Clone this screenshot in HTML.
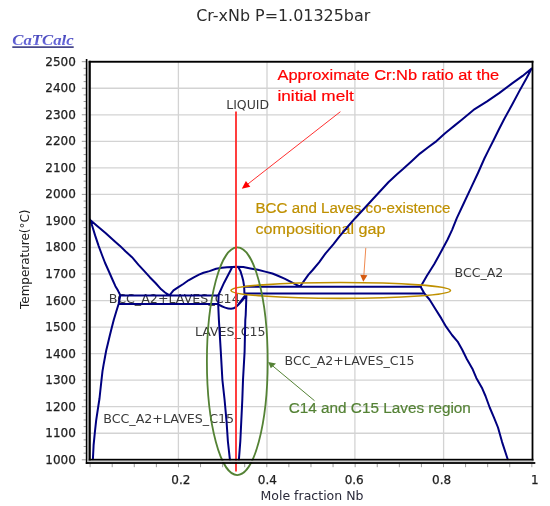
<!DOCTYPE html><html><head><meta charset="utf-8"><title>Cr-xNb phase diagram</title>
<style>html,body{margin:0;padding:0;background:#fff;}body{width:550px;height:506px;overflow:hidden;}svg{display:block;}</style></head><body>
<svg width="550" height="506" viewBox="0 0 550 506">
<rect x="0" y="0" width="550" height="506" fill="#fff"/>
<path d="M 89.6 88.24 H 532.5 M 89.6 114.78 H 532.5 M 89.6 141.32 H 532.5 M 89.6 167.86 H 532.5 M 89.6 194.40 H 532.5 M 89.6 220.94 H 532.5 M 89.6 247.48 H 532.5 M 89.6 274.02 H 532.5 M 89.6 300.56 H 532.5 M 89.6 327.10 H 532.5 M 89.6 353.64 H 532.5 M 89.6 380.18 H 532.5 M 89.6 406.72 H 532.5 M 89.6 433.26 H 532.5 M 178.40 61.7 V 459.8 M 267.00 61.7 V 459.8 M 354.90 61.7 V 459.8 M 443.60 61.7 V 459.8" stroke="#d3d3d3" stroke-width="1.3" fill="none"/>
<path d="M 81.8 61.70 H 86 M 83.6 68.34 H 86 M 83.6 74.97 H 86 M 83.6 81.61 H 86 M 81.8 88.24 H 86 M 83.6 94.88 H 86 M 83.6 101.51 H 86 M 83.6 108.15 H 86 M 81.8 114.78 H 86 M 83.6 121.42 H 86 M 83.6 128.05 H 86 M 83.6 134.69 H 86 M 81.8 141.32 H 86 M 83.6 147.96 H 86 M 83.6 154.59 H 86 M 83.6 161.23 H 86 M 81.8 167.86 H 86 M 83.6 174.50 H 86 M 83.6 181.13 H 86 M 83.6 187.76 H 86 M 81.8 194.40 H 86 M 83.6 201.04 H 86 M 83.6 207.67 H 86 M 83.6 214.31 H 86 M 81.8 220.94 H 86 M 83.6 227.57 H 86 M 83.6 234.21 H 86 M 83.6 240.85 H 86 M 81.8 247.48 H 86 M 83.6 254.12 H 86 M 83.6 260.75 H 86 M 83.6 267.38 H 86 M 81.8 274.02 H 86 M 83.6 280.66 H 86 M 83.6 287.29 H 86 M 83.6 293.93 H 86 M 81.8 300.56 H 86 M 83.6 307.19 H 86 M 83.6 313.83 H 86 M 83.6 320.46 H 86 M 81.8 327.10 H 86 M 83.6 333.74 H 86 M 83.6 340.37 H 86 M 83.6 347.00 H 86 M 81.8 353.64 H 86 M 83.6 360.27 H 86 M 83.6 366.91 H 86 M 83.6 373.55 H 86 M 81.8 380.18 H 86 M 83.6 386.81 H 86 M 83.6 393.45 H 86 M 83.6 400.08 H 86 M 81.8 406.72 H 86 M 83.6 413.35 H 86 M 83.6 419.99 H 86 M 83.6 426.62 H 86 M 81.8 433.26 H 86 M 83.6 439.89 H 86 M 83.6 446.53 H 86 M 83.6 453.16 H 86 M 81.8 459.80 H 86 M 90.10 463.5 V 467.2 M 112.19 463.5 V 467.2 M 134.28 463.5 V 467.2 M 156.36 463.5 V 467.2 M 178.45 463.5 V 467.2 M 200.54 463.5 V 467.2 M 222.62 463.5 V 467.2 M 244.71 463.5 V 467.2 M 266.80 463.5 V 467.2 M 288.89 463.5 V 467.2 M 310.98 463.5 V 467.2 M 333.06 463.5 V 467.2 M 355.15 463.5 V 467.2 M 377.24 463.5 V 467.2 M 399.33 463.5 V 467.2 M 421.41 463.5 V 467.2 M 443.50 463.5 V 467.2 M 465.59 463.5 V 467.2 M 487.68 463.5 V 467.2 M 509.76 463.5 V 467.2 M 531.85 463.5 V 467.2" stroke="#9a9a9a" stroke-width="1" fill="none"/>
<g font-family="'DejaVu Sans','Liberation Sans',sans-serif" font-size="12" fill="#1e1e1e" stroke="#1e1e1e" stroke-width="0.25" text-anchor="end">
<text x="75.8" y="65.6">2500</text>
<text x="75.8" y="92.1">2400</text>
<text x="75.8" y="118.7">2300</text>
<text x="75.8" y="145.2">2200</text>
<text x="75.8" y="171.8">2100</text>
<text x="75.8" y="198.3">2000</text>
<text x="75.8" y="224.8">1900</text>
<text x="75.8" y="251.4">1800</text>
<text x="75.8" y="277.9">1700</text>
<text x="75.8" y="304.5">1600</text>
<text x="75.8" y="331.0">1500</text>
<text x="75.8" y="357.5">1400</text>
<text x="75.8" y="384.1">1300</text>
<text x="75.8" y="410.6">1200</text>
<text x="75.8" y="437.2">1100</text>
<text x="75.8" y="463.7">1000</text>
</g>
<g font-family="'DejaVu Sans','Liberation Sans',sans-serif" font-size="12" fill="#1e1e1e" stroke="#1e1e1e" stroke-width="0.25" text-anchor="middle">
<text x="180.8" y="483.6">0.2</text>
<text x="267.3" y="483.6">0.4</text>
<text x="354.2" y="483.6">0.6</text>
<text x="441.6" y="483.6">0.8</text>
<text x="534.8" y="483.6">1</text>
</g>
<text x="260.5" y="500.1" font-family="'DejaVu Sans','Liberation Sans',sans-serif" font-size="12.5" fill="#2a2a3a" textLength="103" lengthAdjust="spacingAndGlyphs">Mole fraction Nb</text>
<text transform="translate(29.2 308.9) rotate(-90)" x="0" y="0" font-family="'DejaVu Sans','Liberation Sans',sans-serif" font-size="12.5" fill="#1e1e1e" textLength="99.4" lengthAdjust="spacingAndGlyphs">Temperature(°C)</text>
<text x="196.2" y="21.4" font-family="'DejaVu Sans','Liberation Sans',sans-serif" font-size="16" fill="#2b2b2b" textLength="174" lengthAdjust="spacingAndGlyphs">Cr-xNb P=1.01325bar</text>
<defs><linearGradient id="lg" x1="0" y1="0" x2="0" y2="1"><stop offset="0" stop-color="#3030a8"/><stop offset="1" stop-color="#7a7aea"/></linearGradient></defs>
<text x="12.3" y="44.5" font-family="'Liberation Serif',serif" font-style="italic" font-weight="bold" font-size="15.5" fill="url(#lg)" textLength="61.4" lengthAdjust="spacingAndGlyphs">CaTCalc</text>
<rect x="12.3" y="46.4" width="61.4" height="1.4" fill="#1c1c70"/>
<g font-family="'DejaVu Sans','Liberation Sans',sans-serif" font-size="12" fill="#3a3a3a">
<text x="226.2" y="108.5" textLength="43" lengthAdjust="spacingAndGlyphs">LIQUID</text>
<text x="108.7" y="302.7" textLength="131" lengthAdjust="spacingAndGlyphs">BCC_A2+LAVES_C14</text>
<text x="194.9" y="335.9" textLength="70.7" lengthAdjust="spacingAndGlyphs">LAVES_C15</text>
<text x="284.6" y="364.6" textLength="129.8" lengthAdjust="spacingAndGlyphs">BCC_A2+LAVES_C15</text>
<text x="103.2" y="422.7" textLength="130.9" lengthAdjust="spacingAndGlyphs">BCC_A2+LAVES_C15</text>
<text x="454.5" y="276.5" textLength="48.8" lengthAdjust="spacingAndGlyphs">BCC_A2</text>
</g>
<g font-family="'Liberation Sans','DejaVu Sans',sans-serif" font-size="15.5" stroke-width="0.2">
<text x="277.5" y="79.5" fill="#ff0000" stroke="#ff0000" textLength="221.7" lengthAdjust="spacingAndGlyphs">Approximate Cr:Nb ratio at the</text>
<text x="277.5" y="100.5" fill="#ff0000" stroke="#ff0000" textLength="76.3" lengthAdjust="spacingAndGlyphs">initial melt</text>
<text x="255.5" y="212.5" fill="#bf9000" stroke="#bf9000" textLength="195" lengthAdjust="spacingAndGlyphs">BCC and Laves co-existence</text>
<text x="255.5" y="234.3" fill="#bf9000" stroke="#bf9000" textLength="130" lengthAdjust="spacingAndGlyphs">compositional gap</text>
<text x="288.7" y="412.5" fill="#548235" stroke="#548235" textLength="182.2" lengthAdjust="spacingAndGlyphs">C14 and C15 Laves region</text>
</g>
<path d="M 90.2 219.9 L 96.9 225.7 L 105.8 233.2 L 114.6 241.2 L 120.0 245.9 L 125.7 251.5 L 132.0 257.2 L 138.3 264.6 L 144.1 270.9 L 149.8 277.2 L 155.5 283.0 L 161.2 289.3 L 165.0 292.5 L 169.5 295.3 M 90.2 219.9 L 92.4 226.5 L 95.1 235.4 L 98.7 246.1 L 102.0 255.0 L 105.1 263.0 L 108.7 271.0 L 112.2 279.0 L 115.4 286.2 L 118.0 290.6 L 120.3 295.3 L 119.5 299.5 L 118.6 304.0 L 116.2 311.8 L 113.8 319.7 L 111.8 327.6 L 109.8 335.5 L 107.9 343.5 L 106.2 350.5 L 105.1 356.5 L 103.6 364.6 L 102.5 371.1 L 101.4 380.9 L 100.4 390.0 L 99.5 398.5 L 98.2 406.9 L 96.2 420.1 L 94.9 432.0 L 93.6 445.2 L 92.9 459.3 M 169.5 295.3 L 173.5 290.4 L 178.0 287.4 L 183.3 284.0 L 188.5 280.3 L 193.8 277.3 L 199.0 274.6 L 203.5 272.8 L 209.5 271.1 L 216.1 268.8 L 221.9 267.8 L 227.0 267.2 L 232.1 266.9 L 236.1 266.7 L 243.3 266.9 L 250.5 268.4 L 257.8 269.8 L 265.1 271.6 L 272.4 273.5 L 277.3 275.5 L 284.5 278.7 L 291.8 282.4 L 297.6 285.3 L 300.0 286.5 M 232.3 267.0 L 224.1 282.7 L 218.7 294.5 L 218.2 304.5 L 218.9 320.0 L 220.8 351.6 L 222.4 380.0 L 224.6 400.0 L 226.5 420.8 L 227.9 441.5 L 229.9 459.6 M 238.2 267.1 L 240.4 270.9 L 242.2 276.7 L 243.3 281.1 L 244.0 285.5 L 244.3 289.8 L 244.4 293.5 M 120.3 295.4 L 218.7 295.4 M 118.6 304.0 L 218.3 304.0 M 244.4 286.8 L 420.6 286.8 L 424.4 293.4 L 244.4 293.4 M 300.0 286.5 L 303.5 281.6 L 308.5 274.7 L 312.7 270.0 L 319.1 262.3 L 325.6 253.3 L 333.3 244.3 L 339.7 236.2 L 348.3 226.0 L 355.2 218.2 L 363.5 209.3 L 371.8 200.3 L 380.1 191.3 L 388.4 182.3 L 397.0 174.2 L 403.3 168.8 L 411.6 161.2 L 419.9 153.6 L 428.2 147.3 L 436.5 141.1 L 444.8 133.5 L 450.0 129.2 L 454.5 125.6 L 462.4 119.2 L 474.7 109.1 L 487.1 101.4 L 499.5 92.9 L 511.8 83.6 L 522.6 75.9 L 531.6 68.5 M 420.6 286.8 L 426.9 275.8 L 434.3 264.0 L 441.7 250.6 L 447.6 239.5 L 452.1 229.8 L 456.8 218.1 L 463.9 203.0 L 471.0 187.8 L 478.1 172.7 L 484.4 158.5 L 488.8 149.6 L 493.3 140.7 L 498.6 130.0 L 504.1 119.2 L 511.8 105.3 L 519.6 90.6 L 526.5 78.2 L 531.6 68.5 M 424.4 293.5 L 429.5 299.5 L 435.4 309.0 L 441.3 318.4 L 446.1 326.7 L 452.0 335.0 L 457.6 341.6 L 462.1 349.5 L 466.8 359.0 L 472.8 369.6 L 476.3 377.9 L 482.3 388.6 L 485.5 396.0 L 489.7 407.5 L 493.8 417.1 L 498.0 427.5 L 502.1 442.1 L 507.7 459.3 M 246.4 295.6 L 245.7 315.0 L 245.3 320.0 L 244.6 351.6 L 243.0 380.0 L 242.3 400.0 L 241.3 420.8 L 240.3 441.5 L 238.9 459.6 M 218.3 304.3 C 222 306.5 226 308.6 231 308.7 C 236 308.6 238 305 246.4 295.6 M 237.5 305.5 L 244.6 296" stroke="#000080" stroke-width="2.0" fill="none" stroke-linejoin="round" stroke-linecap="round"/>
<ellipse cx="340.75" cy="290.45" rx="109.75" ry="7.95" stroke="#bf9000" stroke-width="1.6" fill="none"/>
<ellipse cx="237.3" cy="361.25" rx="30.4" ry="113.85" stroke="#548235" stroke-width="1.8" fill="none"/>
<line x1="236.0" y1="111.6" x2="236.0" y2="471.6" stroke="#ff2a2a" stroke-width="1.8"/>
<line x1="340.4" y1="111.7" x2="246" y2="185.5" stroke="#ff3030" stroke-width="1"/>
<polygon points="241.8,188.8 245.9,181.1 250.3,186.7" fill="#ff0000"/>
<line x1="365.8" y1="247.9" x2="363.8" y2="276" stroke="#f08a50" stroke-width="1"/>
<polygon points="363.3,281.8 360.2,274.8 367.4,275.3" fill="#d55a10"/>
<line x1="314.5" y1="400.7" x2="271" y2="364.5" stroke="#548235" stroke-width="1"/>
<polygon points="268.2,362 276,363.4 270.8,368.3" fill="#548235"/>
<rect x="85.8" y="59" width="1.6" height="405" fill="#000"/>
<rect x="87.4" y="61" width="1.4" height="401" fill="#9a9a9a"/>
<rect x="88.8" y="60.8" width="2.0" height="400" fill="#000"/>
<rect x="88.8" y="60.8" width="444.6" height="1.9" fill="#000"/>
<rect x="531.6" y="60.8" width="1.8" height="400" fill="#000"/>
<rect x="88.8" y="458.8" width="444.6" height="1.9" fill="#000"/>
<rect x="87.4" y="460.7" width="446" height="1.4" fill="#c8c8c8"/>
<rect x="85.8" y="462.1" width="449.5" height="1.8" fill="#000"/>
</svg></body></html>
